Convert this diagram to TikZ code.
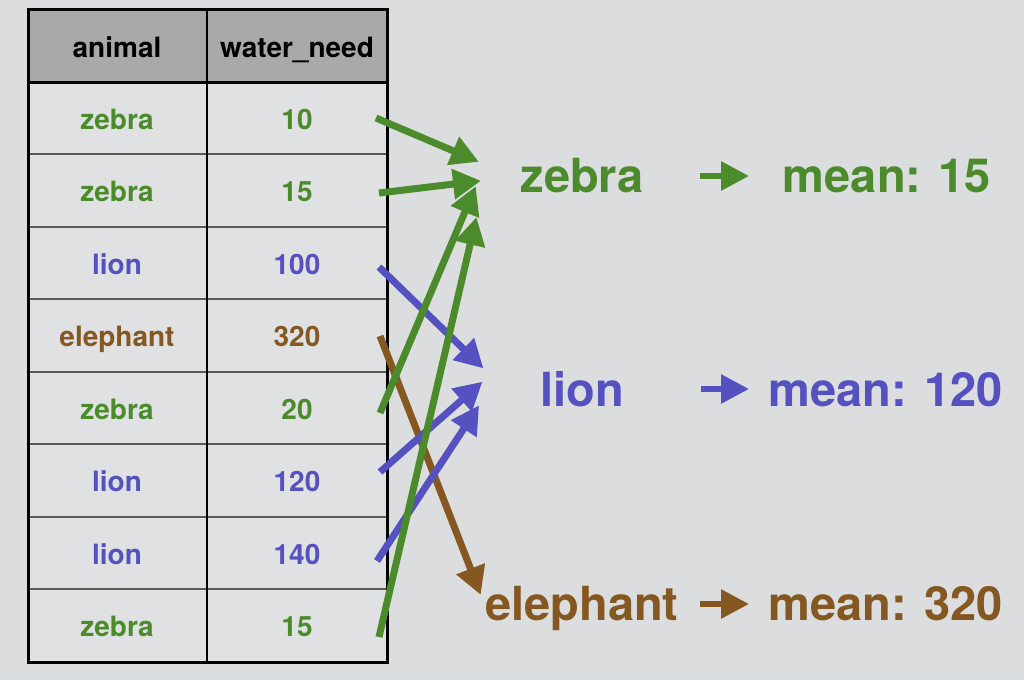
\documentclass[tikz,border=0pt]{standalone}
\usepackage{fontspec}
\setmainfont{TeX Gyre Heros}
\usetikzlibrary{arrows.meta}
\definecolor{bg}{HTML}{DCDDDF}
\definecolor{cellbg}{HTML}{E0E1E3}
\definecolor{hdr}{HTML}{A8A9A9}
\definecolor{zg}{HTML}{4C8B2B}
\definecolor{lb}{HTML}{5551C1}
\definecolor{eb}{HTML}{845820}
\tikzset{
  cell/.style={font=\fontsize{28}{30}\selectfont\bfseries, anchor=base, inner sep=0pt},
  big/.style={font=\fontsize{47}{50}\selectfont\bfseries, anchor=base, inner sep=0pt},
  link/.style={line width=7pt, -{Triangle[length=28pt,width=29pt]}, shorten >=-2pt},
  small/.style={line width=6pt, -{Triangle[length=28pt,width=28pt]}},
}
\begin{document}
\begin{tikzpicture}[x=1pt,y=-1pt]
\fill[bg] (0,0) rectangle (1024,680);
\useasboundingbox (0,0) rectangle (1024,680);
% table
\fill[cellbg] (28,82) rectangle (387,662);
\fill[hdr] (28,9) rectangle (387,82);
\foreach \y in {154,227,299,372,444,517,589}
  \draw[line width=1.5pt, black!65] (28,\y) -- (387,\y);
\draw[line width=2pt] (207,9) -- (207,662);
\draw[line width=3pt] (28,82) -- (387,82);
\draw[line width=3pt] (28,9) rectangle (387,662);
% header
\node[cell] (h1) at (117,57) {animal};
\node[cell] (h2) at (297,57) {water\_need};
% rows
\node[cell, zg] (a1) at (117,129) {zebra};   \node[cell, zg] (w1) at (297,129) {10};
\node[cell, zg] (a2) at (117,201) {zebra};   \node[cell, zg] (w2) at (297,201) {15};
\node[cell, lb] (a3) at (117,274) {lion};    \node[cell, lb] (w3) at (297,274) {100};
\node[cell, eb] (a4) at (117,346) {elephant};\node[cell, eb] (w4) at (297,346) {320};
\node[cell, zg] (a5) at (117,419) {zebra};   \node[cell, zg] (w5) at (297,419) {20};
\node[cell, lb] (a6) at (117,491) {lion};    \node[cell, lb] (w6) at (297,491) {120};
\node[cell, lb] (a7) at (117,564) {lion};    \node[cell, lb] (w7) at (297,564) {140};
\node[cell, zg] (a8) at (117,636) {zebra};   \node[cell, zg] (w8) at (297,636) {15};
% start points
\coordinate (s1) at (376,118);
\coordinate (s2) at (379,193);
\coordinate (s3) at (379,267);
\coordinate (s4) at (380,336);
\coordinate (s5) at (380,413);
\coordinate (s6) at (380,472);
\coordinate (s7) at (377,561);
\coordinate (s8) at (379,637);
% tips
\coordinate (t1) at (477,161);
\coordinate (t2) at (479,181);
\coordinate (t5) at (475,188);
\coordinate (t8) at (476,219);
\coordinate (t3) at (482,367);
\coordinate (t6) at (481,383);
\coordinate (t7) at (478,407);
\coordinate (t4) at (480,593);
% right labels
\node[big, zg] (gz) at (582,192) {zebra};
\node[big, zg] (mz) at (887,192) {mean: 15};
\node[big, lb] (gl) at (582,406) {lion};
\node[big, lb] (ml) at (886,406) {mean: 120};
\node[big, eb] (ge) at (582,620) {elephant};
\node[big, eb] (me) at (886,620) {mean: 320};
\coordinate (z0) at (700,176); \coordinate (z1) at (749,176);
\coordinate (l0) at (701,389); \coordinate (l1) at (749,389);
\coordinate (e0) at (700,604); \coordinate (e1) at (749,604);
\draw[small, zg] (z0) -- (z1);
\draw[small, lb] (l0) -- (l1);
\draw[small, eb] (e0) -- (e1);
% connectors
\draw[link, zg] (s1) -- (t1);
\draw[link, zg] (s2) -- (t2);
\draw[link, lb] (s3) -- (t3);
\draw[link, eb] (s4) -- (t4);
\draw[link, zg] (s5) -- (t5);
\draw[link, lb] (s6) -- (t6);
\draw[link, lb] (s7) -- (t7);
\draw[link, zg] (s8) -- (t8);
\end{tikzpicture}
\end{document}
